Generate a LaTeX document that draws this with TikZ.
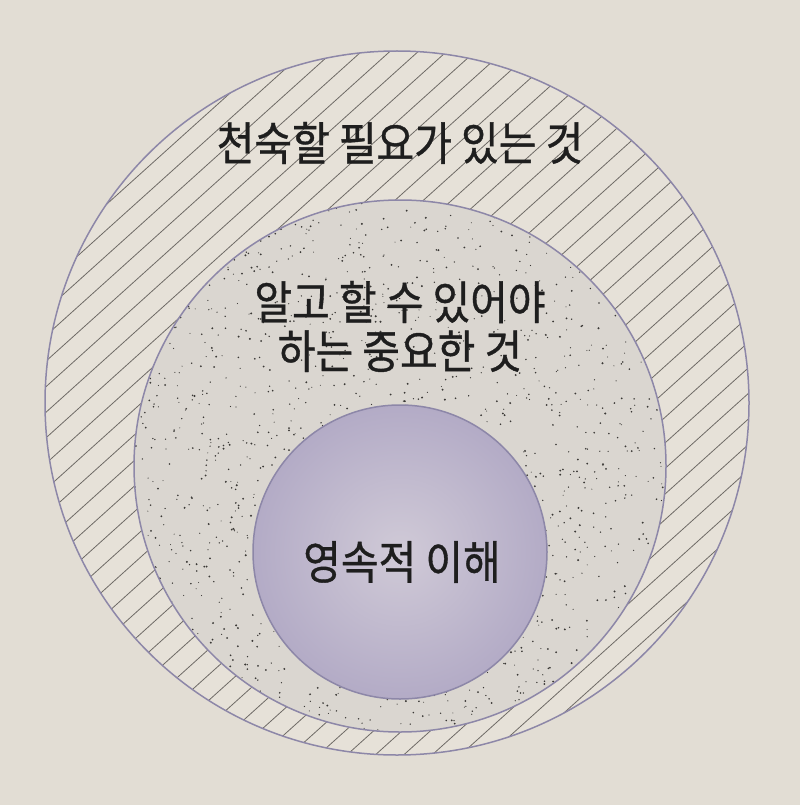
\documentclass[tikz,border=0pt]{standalone}
\usepackage{fontspec}
\newfontfamily\kr[FakeStretch=0.89,FakeBold=0.8]{Noto Sans CJK KR}
\definecolor{paper}{HTML}{E2DDD4}
\definecolor{ringfill}{HTML}{E6E1D8}
\definecolor{midfill}{HTML}{DAD6D0}
\definecolor{ringline}{HTML}{8D87A8}
\definecolor{hatchc}{HTML}{6E6A66}
\definecolor{dotc}{HTML}{3A3835}
\definecolor{innerlight}{HTML}{D0CAD7}
\definecolor{innerdark}{HTML}{B3ABC6}
\definecolor{textc}{HTML}{1E1E1E}
\begin{document}
\begin{tikzpicture}[x=1pt,y=-1pt,
  hatch/.style={draw=hatchc, line width=0.8pt},
  ringstroke/.style={draw=ringline, line width=1.5pt},
  lbl/.style={font=\kr\fontsize{46}{49}\selectfont, text=textc, inner sep=0pt, align=center}]
\fill[paper] (0,0) rectangle (800,805);
\useasboundingbox (0,0) rectangle (800,805);
% outer ring with hatching
\fill[ringfill] (397,403) circle (352);
\begin{scope}
  \clip (397,403) circle (352);
  \foreach \i in {-20,...,20}{
    \pgfmathsetmacro\cx{397+\i*19*sin(42)}
    \pgfmathsetmacro\cy{403+\i*19*cos(42)}
    \draw[hatch] (\cx,\cy) ++(-42:420) -- ++(138:840);
  }
\end{scope}
% middle circle with stipple
\fill[midfill] (400,466) circle (266);
\begin{scope}
  \clip (400,466) circle (266);
  \pgfmathsetseed{7}
  \foreach \k in {1,...,1400}{
    \pgfmathsetmacro\ang{rnd*360}
    \pgfmathsetmacro\rad{266*sqrt(rnd)}
    \pgfmathsetmacro\dr{0.5+0.6*rnd}
    \fill[dotc] ({400+\rad*cos(\ang)},{466+\rad*sin(\ang)}) circle (\dr);
  }
\end{scope}
\draw[ringstroke] (400,466) circle (266);
% inner circle
\shade[inner color=innerlight, outer color=innerdark] (400,552) circle (147);
\draw[ringstroke] (400,552) circle (147);
% outer outline
\draw[ringstroke] (397,403) circle (352);
% labels
\node[lbl] (t1) at (400,143) {천숙할 필요가 있는 것};
\node[lbl] (t2) at (400,326.5) {알고 할 수 있어야\\하는 중요한 것};
\node[lbl] (t3) at (402,562) {영속적 이해};
\end{tikzpicture}
\end{document}
